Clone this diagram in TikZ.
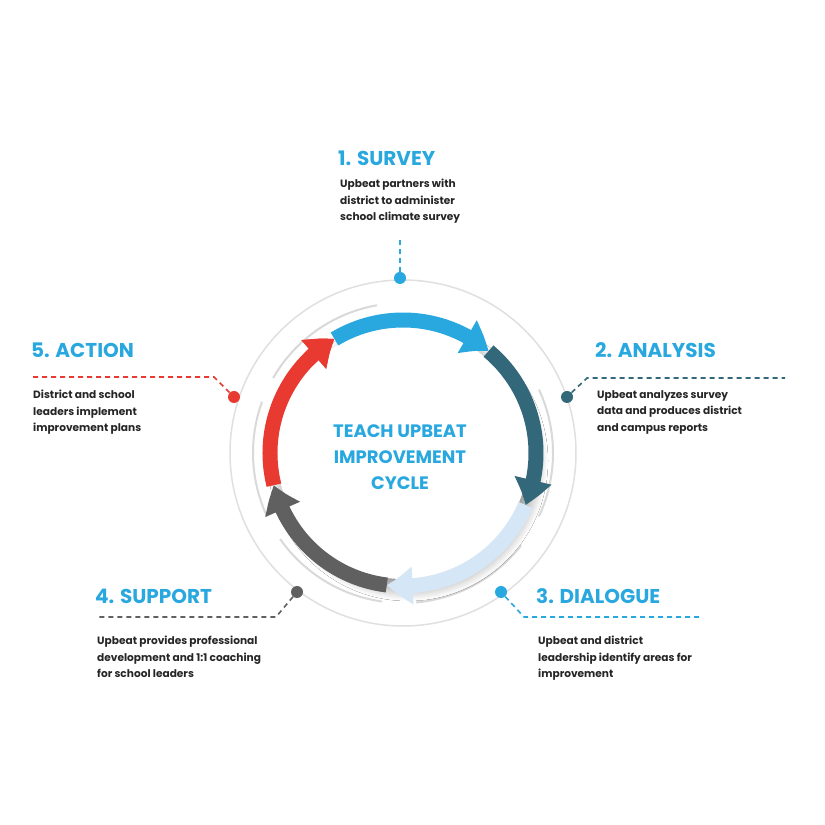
\documentclass[tikz,border=0pt]{standalone}
\usepackage{fontspec}
\setmainfont{Poppins}
\usetikzlibrary{arrows.meta,bending,calc,shadows.blur}
\definecolor{cblue}{HTML}{29A8E0}
\definecolor{cteal}{HTML}{33687A}
\definecolor{clight}{HTML}{D5E7F6}
\definecolor{cgray}{HTML}{606060}
\definecolor{cred}{HTML}{E83A30}
\begin{document}
\begin{tikzpicture}[x=1pt,y=1pt,
  head/.style={font=\bfseries\fontsize{20}{22}\selectfont,anchor=west,inner sep=0},
  body/.style={font=\bfseries\fontsize{10.6}{16.5}\selectfont,anchor=north west,align=left,inner sep=0,text=black!85},
  dot/.style={circle,fill=#1,minimum size=12,inner sep=0},
  lead/.style={#1,dashed,dash pattern=on 5pt off 4pt,line width=1.6pt},
  arr/.style={line width=15pt,#1,-{Triangle[length=26pt,width=36pt,bend]}}]
\fill[white] (0,0) rectangle (825,825);
\coordinate (C) at (403,372);
% rings
\draw[black!12,line width=1.5pt] (C) circle[radius=173];
\foreach \a/\b in {100/150,160/205,215/262,275/322,335/385}
  \draw[black!15,line width=2pt] ($(C)+(\a:150)$) arc[start angle=\a,end angle=\b,radius=150];
\fill[white,blur shadow={shadow blur steps=12,shadow xshift=5pt,shadow yshift=-8pt,shadow blur radius=14pt,shadow opacity=50}] (C) circle[radius=126];
% arrows
\draw[arr=cteal] ($(C)+(50:133)$) arc[start angle=50,end angle=-23,radius=133];
\draw[arr=clight] ($(C)+(-23:133)$) arc[start angle=-23,end angle=-97,radius=133];
\draw[arr=cgray] ($(C)+(-97:133)$) arc[start angle=-97,end angle=-166,radius=133];
\draw[arr=cred] ($(C)+(194:133)$) arc[start angle=194,end angle=121,radius=133];
\draw[arr=cblue] ($(C)+(121:133)$) arc[start angle=121,end angle=50,radius=133];
\draw[arr=cred] ($(C)+(135:133)$) arc[start angle=135,end angle=121,radius=133];
% center text
\node[font=\bfseries\fontsize{18}{26}\selectfont,text=cblue,align=center] (ctr) at (400,368) {TEACH UPBEAT\\IMPROVEMENT\\CYCLE};
% 1 survey
\node[dot=cblue] (d1) at (400,547) {};
\coordinate (e1) at (400,587);
\draw[lead=cblue] (d1) -- (e1);
\node[head,text=cblue] (h1) at (338,667) {1. SURVEY};
\node[body] (b1) at (340,646) {Upbeat partners with\\district to administer\\school climate survey};
% 2 analysis
\node[dot=cteal] (d2) at (567,428) {};
\coordinate (k2) at (587,447);
\coordinate (e2) at (785,447);
\draw[lead=cteal] (d2) -- (k2) -- (e2);
\node[head,text=cblue] (h2) at (595,475) {2. ANALYSIS};
\node[body] (b2) at (597,435) {Upbeat analyzes survey\\data and produces district\\and campus reports};
% 3 dialogue
\node[dot=cblue] (d3) at (501,233) {};
\coordinate (k3) at (524,208);
\coordinate (e3) at (700,208);
\draw[lead=cblue] (d3) -- (k3) -- (e3);
\node[head,text=cblue] (h3) at (536,229) {3. DIALOGUE};
\node[body] (b3) at (538,189) {Upbeat and district\\leadership identify areas for\\improvement};
% 4 support
\node[dot=cgray] (d4) at (297,233) {};
\coordinate (k4) at (276,208);
\coordinate (e4) at (97,208);
\draw[lead=cgray] (d4) -- (k4) -- (e4);
\node[head,text=cblue] (h4) at (95,229) {4. SUPPORT};
\node[body] (b4) at (97,189) {Upbeat provides professional\\development and 1:1 coaching\\for school leaders};
% 5 action
\node[dot=cred] (d5) at (234,428) {};
\coordinate (k5) at (214,448);
\coordinate (e5) at (33,448);
\draw[lead=cred] (d5) -- (k5) -- (e5);
\node[head,text=cblue] (h5) at (31,475) {5. ACTION};
\node[body] (b5) at (33,435) {District and school\\leaders implement\\improvement plans};
\end{tikzpicture}
\end{document}
